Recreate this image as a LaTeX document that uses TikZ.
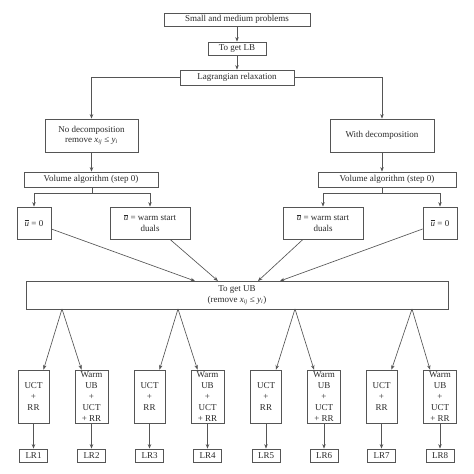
\documentclass[tikz,border=0pt]{standalone}
\usepackage{fontspec}
\setmainfont{Liberation Serif}
\usetikzlibrary{arrows.meta,calc}
\definecolor{boxgray}{HTML}{555555}
\definecolor{txtgray}{HTML}{2A2A2A}
\newcommand{\ubar}{$\overline{\mbox{\textit{u}}}$}
\newcommand{\xy}{\textit{x}\textsubscript{\textit{ij}} ≤ \textit{y}\textsubscript{\textit{i}}}
\begin{document}
\begin{tikzpicture}[x=1pt,y=-1pt,
  box/.style={draw=boxgray, line width=0.75pt, text=txtgray, inner sep=0pt, align=center, font=\fontsize{9}{10.8}\selectfont},
  arr/.style={draw=boxgray, line width=0.65pt, -{Stealth[length=4.5pt,width=3.5pt]}},
  ln/.style={draw=boxgray, line width=0.65pt}]
\useasboundingbox (0,0) rectangle (474,474);
\fill[white] (0,0) rectangle (474,474);
% top chain
\node[box, minimum width=146, minimum height=13] (smp) at (237,19.5) {Small and medium problems};
\node[box, minimum width=58, minimum height=13] (lb) at (237,48.5) {To get LB};
\node[box, minimum width=114, minimum height=15] (lag) at (237,77.5) {Lagrangian relaxation};
\node[box, minimum width=93, minimum height=33] (nod) at (91.5,135.5) {No decomposition\\remove \xy};
\node[box, minimum width=104, minimum height=33] (wd) at (382,135.5) {With decomposition};
\node[box, minimum width=134, minimum height=15] (vol1) at (91,179.5) {Volume algorithm (step 0)};
\node[box, minimum width=138, minimum height=15] (vol2) at (387,179.5) {Volume algorithm (step 0)};
\node[box, minimum width=34, minimum height=32] (u0l) at (34,223) {\ubar{} = 0};
\node[box, minimum width=80, minimum height=32] (wsl) at (150,223) {\ubar{} = warm start\\duals};
\node[box, minimum width=80, minimum height=32] (wsr) at (323,223) {\ubar{} = warm start\\duals};
\node[box, minimum width=34, minimum height=32] (u0r) at (440,223) {\ubar{} = 0};
\node[box, minimum width=422, minimum height=28] (ub) at (237,295) {To get UB\\(remove \xy)};
% bottom boxes
\node[box, minimum width=31, minimum height=53] (c1) at (33.5,396.5) {UCT\\+\\RR};
\node[box, minimum width=33, minimum height=53] (c2) at (91.5,396.5) {Warm\\UB\\+\\UCT\\+ RR};
\node[box, minimum width=31, minimum height=53] (c3) at (149.5,396.5) {UCT\\+\\RR};
\node[box, minimum width=33, minimum height=53] (c4) at (207.5,396.5) {Warm\\UB\\+\\UCT\\+ RR};
\node[box, minimum width=31, minimum height=53] (c5) at (266,396.5) {UCT\\+\\RR};
\node[box, minimum width=33, minimum height=53] (c6) at (324,396.5) {Warm\\UB\\+\\UCT\\+ RR};
\node[box, minimum width=31, minimum height=53] (c7) at (381.5,396.5) {UCT\\+\\RR};
\node[box, minimum width=33, minimum height=53] (c8) at (440,396.5) {Warm\\UB\\+\\UCT\\+ RR};
\foreach \i/\cx in {1/33.5,2/91.5,3/149.5,4/207.5,5/266,6/324,7/381.5,8/440}{
  \node[box, minimum width=28, minimum height=13] (lr\i) at (\cx,455.5) {LR\i};
  \draw[arr] (c\i.south) -- (lr\i.north);
}
% connectors top
\draw[arr] (smp.south) -- (lb.north);
\draw[arr] (lb.south) -- (lag.north);
\draw[arr] (lag.west) -| (nod.north);
\draw[arr] (lag.east) -| (wd.north);
\draw[arr] (nod.south) -- (nod.south |- vol1.north);
\draw[arr] (wd.south) -- (wd.south |- vol2.north);
% volume branches
\coordinate (b1) at (92,193);
\coordinate (b2) at (382,193);
\draw[ln] (vol1.south -| b1) -- (b1);
\draw[ln] (vol2.south -| b2) -- (b2);
\draw[arr] (b1) -| (u0l.north);
\draw[arr] (b1) -| (wsl.north);
\draw[arr] (b2) -| (wsr.north);
\draw[arr] (b2) -| (u0r.north);
% into UB
\coordinate (t1) at (195,281);
\coordinate (t2) at (218,281);
\coordinate (t3) at (258,281);
\coordinate (t4) at (280,281);
\draw[arr] ([yshift=-6pt]u0l.east) -- (t1);
\draw[arr] ([xshift=20pt]wsl.south) -- (t2);
\draw[arr] ([xshift=-20pt]wsr.south) -- (t3);
\draw[arr] ([yshift=-6pt]u0r.west) -- (t4);
% from UB
\coordinate (s1) at (62,309);
\coordinate (s2) at (178,309);
\coordinate (s3) at (295,309);
\coordinate (s4) at (412,309);
\draw[arr] (s1) -- ([xshift=10pt]c1.north);
\draw[arr] (s1) -- ([xshift=-10pt]c2.north);
\draw[arr] (s2) -- ([xshift=10pt]c3.north);
\draw[arr] (s2) -- ([xshift=-10pt]c4.north);
\draw[arr] (s3) -- ([xshift=10pt]c5.north);
\draw[arr] (s3) -- ([xshift=-10pt]c6.north);
\draw[arr] (s4) -- ([xshift=10pt]c7.north);
\draw[arr] (s4) -- ([xshift=-10pt]c8.north);
\end{tikzpicture}
\end{document}
